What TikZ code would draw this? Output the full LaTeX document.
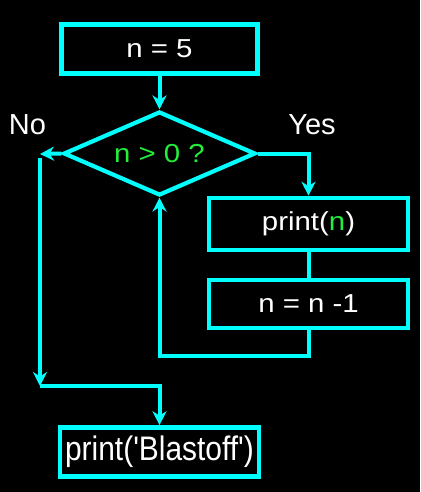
\documentclass[tikz,border=0pt]{standalone}
\usepackage{fontspec}
\setmainfont{Liberation Sans}[Ligatures=TeXOff]
\usetikzlibrary{shapes.geometric,arrows.meta}
\definecolor{flowcyan}{HTML}{00FFFF}
\definecolor{condgreen}{HTML}{22EE3C}
\newcommand{\boxfont}{\fontsize{26}{31}\selectfont}
\newcommand{\labfont}{\fontsize{29}{34}\selectfont}
\newcommand{\wide}[1]{\scalebox{1.13}[1]{#1}}
\tikzset{
  stepbox/.style={draw=flowcyan, line width=4.6pt, rectangle, inner sep=0pt,
    text=white, font=\boxfont},
  decbox/.style={draw=flowcyan, line width=4.2pt, diamond, aspect=2.3, inner sep=0pt,
    minimum width=192pt, minimum height=84pt, text=condgreen, font=\boxfont},
  conn/.style={draw=flowcyan, line width=4pt},
  arr/.style={conn, -{Stealth[length=14pt,width=14pt,inset=4.5pt]}},
  lab/.style={text=white, font=\labfont, inner sep=0pt}
}
\begin{document}
\begin{tikzpicture}[x=1pt,y=-1pt]
  \fill[black] (0,0) rectangle (420,492);
  \useasboundingbox (0,0) rectangle (420,492);

  \node[stepbox, minimum width=196pt, minimum height=49pt] (init) at (159.5,49) {\wide{n = 5}};
  \node[decbox] (dec) at (159.5,153.5) {\wide{n > 0 ?}};
  \node[stepbox, minimum width=199pt, minimum height=52pt] (pn) at (308.5,224) {\wide{print(\textcolor{condgreen}{n})}};
  \node[stepbox, minimum width=199pt, minimum height=48pt] (dn) at (308.5,304) {\wide{n = n -1}};
  \node[stepbox, minimum width=199pt, minimum height=49pt] (blast) at (159.5,452)
    {\fontsize{34}{40}\selectfont\scalebox{0.88}[1]{print('Blastoff')}};

  \node[lab] (no) at (27.5,125) {No};
  \node[lab] (yes) at (312,125) {Yes};

  \coordinate (noL) at (40,154);
  \coordinate (noT) at (40,158);
  \coordinate (noB) at (40,386);
  \coordinate (loopR) at (308.5,356);

  \draw[arr] (init) -- (dec.north);
  \draw[arr] (dec.west) -- (noL);
  \draw[arr] (noT) -- (noB);
  \draw[arr] (noB) -| (blast.north);
  \draw[arr] (dec.east) -| (pn.north);
  \draw[conn] (pn) -- (dn);
  \draw[arr] (dn.south) -- (loopR) -| (dec.south);
\end{tikzpicture}
\end{document}
